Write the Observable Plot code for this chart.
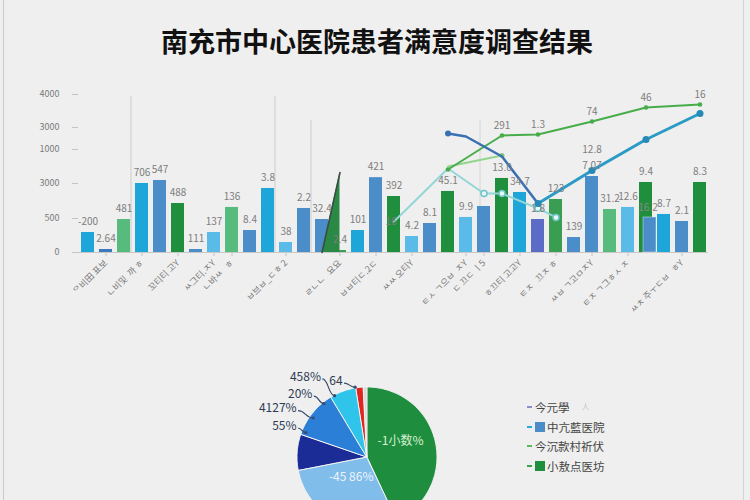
<!DOCTYPE html>
<html><head><meta charset="utf-8">
<script src="https://cdn.jsdelivr.net/npm/d3@7"></script>
<script src="https://cdn.jsdelivr.net/npm/@observablehq/plot@0.6"></script>
<style>
html,body{margin:0;padding:0;background:#efefef;width:750px;height:500px;overflow:hidden;font-family:"Noto Sans CJK SC","Noto Sans",sans-serif;}
#frame{position:absolute;left:3px;top:0;width:741px;height:500px;border-left:1px solid #c9c9c9;border-right:1px solid #d4d4d4;box-sizing:border-box;}
#title{position:absolute;top:27px;left:0;width:754px;text-align:center;font-size:27px;font-weight:700;color:#111;line-height:1;}
#bars{position:absolute;left:0;top:80px;}
#pie{position:absolute;left:0;top:360px;}
#legend{position:absolute;left:527px;top:397px;font-size:11.5px;color:#444;}
.item{height:19.7px;display:flex;align-items:center;}
.ln{width:5px;height:2px;margin-right:3px;display:inline-block;}
.sq{width:10px;height:10px;margin-right:2px;display:inline-block;}
#bars g[aria-label="y-axis"] line, #bars g[aria-label="y-axis tick"],
#bars g[aria-label="x-axis"] line, #bars g[aria-label="x-axis tick"]{stroke:#c4c4c4;}
</style></head><body>
<div id="frame"></div>
<div id="title">南充市中心医院患者满意度调查结果</div>
<div id="bars"></div>
<div id="pie"></div>
<div id="legend">
 <div class="item"><span class="ln" style="background:#8a8fd0"></span><span>今元學</span><span style="color:#c4c4c4;font-size:8px;margin-left:12px">人</span></div>
 <div class="item"><span class="ln" style="background:#2aaad8"></span><span class="sq" style="background:#4a8dc8"></span><span>中亢藍医院</span></div>
 <div class="item"><span class="ln" style="background:#5cb85c"></span><span>今沉款村祈伏</span></div>
 <div class="item"><span class="ln" style="background:#3aa548"></span><span class="sq" style="background:#1f8e3d"></span><span>小敖点医坊</span></div>
</div>
<script>
// ---------- bar chart data ----------
const categories = d3.range(1, 36).map(String);
const barValues = [294,44,485,1014,1058,720,44,294,662,323,941,147,647,485,29,323,1100,823,235,426,897,515,676,1088,882,485,779,220,1117,632,662,1029,559,456,1029];
const barGroups = ["cyan","blue2","lgreen","cyan","blue","dgreen","blue","lblue","lgreen","blue","cyan","lblue","blue","blue","mgreen","cyan","blue","dgreen","lblue","blue","dgreen","lblue","blue","dgreen","cyan","indigo","mgreen","blue","blue","lgreen","lblue","dgreen","cyan","blue","dgreen"];
const barLabels = ["-200","2.64","481","706","547","488","111","137","136","8.4","3.8","38","2.2","32.4","2.4","101","421","392","4.2","8.1","45.1","9.9","","13.0","34.7","1.8","123","139","7.07","31.2","12.6","9.4","8.7","2.1","8.3"];
const overlayCats = ["32"];
const overlayValues = [515];
const overlayLabels = ["16.2"];
const extraLabelCats = ["29"];
const extraLabelValues = [1117];
const extraLabelTexts = ["12.8"];

const yTickValues = [0, 500, 1014, 1514, 1838, 2323];
const yTickLabels = ["0","500","3000","1000","3000","4000"];
const xTickCats = ["2","4","6","8","9","12","15","17","19","22","23","25","27","29","31","34"];
const xTickLabels = ["ᄋ비田 표보","ㄴ비및  까 ㅎ","꼬티티 고Y","ㅆ그티.ㅈY","ㄴ바ㅆ   ㅎ","ㅂ브ㅂ_ㄷㅎ 2","ㄹㄴㄴ   요요","ㅂㅂ티ㄷ.2ㄷ","ㅆㅆ 오티Y","ㅌㅅ ㄱ으ㅂ  ㅈY","ㄷ 끄ㄷ ㅣ5","ㅎ끄티 고고Y","ㅌㅈ   끄ㅈ ㅎ","ㅆㅂ ㄱ고ㅁㅈY","ㅌㅈ ㄱ그ㅎㅅ ㅈ","ㅆㅊ 주ㅜㄷㅂ   ㅎY"];

const gridCats = ["3","11","13"];
const gridTops = [2293, 2293, 1940];
const gridCats2 = ["23"];
const gridTops2 = [1940];

// line series
const blueLineCats = ["21","22","24","26"];
const blueLineValues = [1749,1705,1411,720];
const tealLineCats = ["26","29","32","35"];
const tealLineValues = [720,1205,1661,2043];
const greenLineCats = ["21","24","26","29","32","35"];
const greenLineValues = [1220,1720,1735,1926,2131,2176];
const greenLineLabels = ["","291","1.3","74","46","16"];
const lightGreenCats = ["21","24"];
const lightGreenValues = [1264,1426];
const lightTealCats = ["18","21","23","24","26","27"];
const lightTealValues = [456,1235,867,867,647,515];
const lightTealLabels = ["16","","","","",""];
const spikeCats = ["14","15"];
const spikeValues = [0,1176];

// ---------- pie data ----------
const pieNames = ["小数","45.86%","深蓝","中蓝","青","红","空"];
const pieValues = [43.1, 28.9, 8.3, 11.1, 6.1, 1.7, 0.8];
const pieColors = ["#1e8e3e","#80bdea","#1b2c96","#2b7fd6","#2fc4ea","#e0261f","#dadada"];
const innerTexts = ["-1小数%","-45 86%"];
const calloutTexts = ["458%","64","20%","4127%","55%"];

// ---------- styles ----------
const palette = {cyan:"#1ea6d8", blue:"#4a8dc8", blue2:"#3a78c0", lgreen:"#57bb7d", mgreen:"#3a9e52", dgreen:"#1f8e3d", lblue:"#5bbbe8", indigo:"#5a6cc6"};
const zip = (cats, vals, extra) => cats.map((c, i) => ({cat: c, v: vals[i], t: extra ? extra[i] : ""}));

const bars = categories.map((c, i) => ({cat: c, v: barValues[i], fill: palette[barGroups[i]], t: barLabels[i]}));
const overlay = zip(overlayCats, overlayValues, overlayLabels);
const extraLab = zip(extraLabelCats, extraLabelValues, extraLabelTexts);
const grid = zip(gridCats, gridTops);
const grid2 = zip(gridCats2, gridTops2);
const blueLine = zip(blueLineCats, blueLineValues);
const tealLine = zip(tealLineCats, tealLineValues);
const greenLine = zip(greenLineCats, greenLineValues, greenLineLabels);
const lightGreen = zip(lightGreenCats, lightGreenValues);
const lightTeal = zip(lightTealCats, lightTealValues, lightTealLabels);
const spike = zip(spikeCats, spikeValues);

const barPlot = Plot.plot({
  width: 750, height: 280,
  marginLeft: 78, marginRight: 42, marginTop: 10, marginBottom: 108,
  style: {background: "transparent", fontSize: "9px", color: "#7a7a7a", fontFamily: '"Noto Sans CJK SC","Noto Sans",sans-serif'},
  x: {type: "band", domain: categories, paddingInner: 0.28, paddingOuter: 0,
      ticks: xTickCats, tickFormat: d => xTickLabels[xTickCats.indexOf(d)],
      tickRotate: -45, tickSize: 4, tickPadding: 5, label: null},
  y: {domain: [0, 2381], ticks: yTickValues, tickFormat: d => yTickLabels[yTickValues.indexOf(d)],
      tickSize: 6, tickPadding: 13, label: null},
  color: {type: "identity"},
  marks: [
    Plot.ruleX(grid, {x: "cat", y1: 0, y2: "v", stroke: "#cdcdcd", strokeWidth: 1, dx: 7}),
    Plot.ruleX(grid2, {x: "cat", y1: 0, y2: "v", stroke: "#d6d6d6", strokeWidth: 1, dx: -4}),
    Plot.ruleY([0], {stroke: "#c8c8c8"}),
    Plot.barY(bars, {x: "cat", y: "v", fill: "fill"}),
    Plot.barY(overlay, {x: "cat", y: "v", fill: palette.blue, dx: 4, stroke: "#ffffff", strokeOpacity: 0.4}),
    Plot.areaY(spike, {x: "cat", y: "v", fill: "#2a8a45"}),
    Plot.line(spike, {x: "cat", y: "v", stroke: "#3e4d44", strokeWidth: 1.6}),
    Plot.line(lightTeal, {x: "cat", y: "v", stroke: "#93d6d8", strokeWidth: 2}),
    Plot.dot(lightTeal.slice(2), {x: "cat", y: "v", r: 3, fill: "#e9f7f7", stroke: "#6fc4ca", strokeWidth: 1.5}),
    Plot.line(lightGreen, {x: "cat", y: "v", stroke: "#93d48f", strokeWidth: 2}),
    Plot.dot(lightGreen.slice(1), {x: "cat", y: "v", r: 2.5, fill: "#7cc878"}),
    Plot.line(greenLine, {x: "cat", y: "v", stroke: "#47ad4b", strokeWidth: 2}),
    Plot.dot(greenLine, {x: "cat", y: "v", r: 2.3, fill: "#47ad4b"}),
    Plot.line(blueLine, {x: "cat", y: "v", stroke: "#3a70b2", strokeWidth: 2.5}),
    Plot.dot([blueLine[0]], {x: "cat", y: "v", r: 3, fill: "#3a70b2"}),
    Plot.line(tealLine, {x: "cat", y: "v", stroke: "#2b9bc6", strokeWidth: 3}),
    Plot.dot(tealLine, {x: "cat", y: "v", r: 3.5, fill: "#2689b6"}),
    Plot.text(bars, {x: "cat", y: "v", text: "t", dy: -11, fill: "#7d7d7d", fontSize: 10}),
    Plot.text(overlay, {x: "cat", y: "v", text: "t", dx: 2, dy: -10, fill: "#888", fontSize: 10}),
    Plot.text(extraLab, {x: "cat", y: "v", text: "t", dy: -27, fill: "#7d7d7d", fontSize: 10}),
    Plot.text(greenLine, {x: "cat", y: "v", text: "t", dy: -10, fill: "#7d7d7d", fontSize: 10}),
    Plot.text(lightTeal, {x: "cat", y: "v", text: "t", dx: -3, fill: "#7d7d7d", fontSize: 10})
  ]
});
document.getElementById("bars").appendChild(barPlot);

// ---------- pie ----------
const pieW = 750, pieH = 140, R = 70, cx = 367, cy = 97;
const deg = Math.PI / 180;
const arcs = d3.pie().sort(null).value(d => d)(pieValues);
const wedgePts = arcs.flatMap((a, k) => {
  const n = Math.max(2, Math.ceil((a.endAngle - a.startAngle) / deg));
  return d3.range(n + 1).map(j => {
    const t = a.startAngle + (a.endAngle - a.startAngle) * j / n;
    return {k, color: pieColors[k], x: Math.sin(t), y: Math.cos(t)};
  });
});
const polar = (angDeg, r) => ({x: r * Math.sin(angDeg * deg), y: r * Math.cos(angDeg * deg)});
// layout of annotations (angle in degrees, radius in pie radii)
const innerLayout = [[63, 0.53], [219, 0.37]];
const innerLabels = innerTexts.map((t, i) => ({t, ...polar(innerLayout[i][0], innerLayout[i][1]), c: i === 0 ? "#d9efd3" : "#eef4fb"}));
const calloutLayout = [[332, 1.0, 330, 1.33], [350, 1.02, 342, 1.15], [321, 0.99, 319, 1.2], [306, 0.96, 304.6, 1.23], [292, 0.95, 294, 1.11]];
const callouts = calloutTexts.map((t, i) => {
  const [ta, tr, la, lr] = calloutLayout[i];
  const p = polar(ta, tr), q = polar(la, lr);
  return {t, x1: q.x + 0.02, y1: q.y - 0.03, x2: p.x, y2: p.y, lx: q.x, ly: q.y};
});

const piePlot = Plot.plot({
  width: pieW, height: pieH, margin: 0,
  style: {background: "transparent", fontFamily: '"Noto Sans CJK SC","Noto Sans",sans-serif'},
  x: {domain: [-cx / R, (pieW - cx) / R], axis: null},
  y: {domain: [-(pieH - cy) / R, cy / R], axis: null},
  color: {type: "identity"},
  marks: [
    Plot.area(wedgePts, {x1: d => 0, y1: d => 0, x2: "x", y2: "y", z: "k", fill: "color", stroke: "#f4f4f4", strokeWidth: 1, curve: "linear"}),
    Plot.link(callouts, {x1: "x1", y1: "y1", x2: "x2", y2: "y2", stroke: "#3b4c6c", strokeWidth: 1.2, curve: "bump-x"}),
    Plot.dot(callouts, {x: "x2", y: "y2", r: 1.6, fill: "#3b4c6c"}),
    Plot.text(callouts, {x: "lx", y: "ly", text: "t", textAnchor: "end", fill: "#2d3b55", fontSize: 12}),
    Plot.text(innerLabels, {x: "x", y: "y", text: "t", fill: "c", fontSize: 12})
  ]
});
document.getElementById("pie").appendChild(piePlot);
</script>
</body></html>
